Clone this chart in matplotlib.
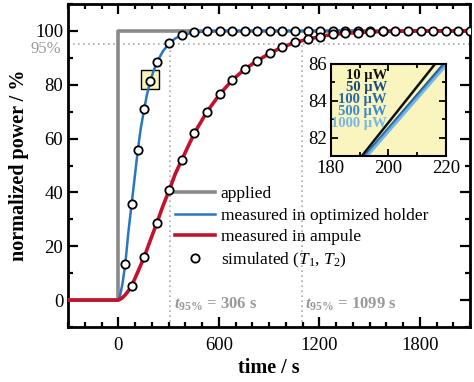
import matplotlib
matplotlib.use("Agg")
import matplotlib.pyplot as plt
from matplotlib.patches import Rectangle
from matplotlib.ticker import MultipleLocator

plt.rcParams['font.family'] = 'Liberation Serif'
plt.rcParams['mathtext.fontset'] = 'custom'
plt.rcParams['mathtext.rm'] = 'Liberation Serif'
plt.rcParams['mathtext.it'] = 'Liberation Serif:italic'
plt.rcParams['mathtext.bf'] = 'Liberation Serif:bold'
plt.rcParams['mathtext.bfit'] = 'Liberation Serif:italic:bold'

# applied step
applied_t = [-300, 0, 0, 2100]
applied_p = [0, 0, 100, 100]

# measured in optimized holder (blue line)
holder_t = [-300, 0, 10, 25, 42, 60, 80, 100, 117, 135, 155, 172, 192, 210, 230, 267, 305, 340, 380, 455, 530, 605, 2100]
holder_p = [0, 0, 1.5, 6, 13.3, 25, 35.8, 46.5, 55.9, 64, 71, 76.5, 81.4, 85, 88.3, 92.5, 95.4, 97.2, 98.4, 99.5, 99.8, 100, 100]

# measured in ampule (red line)
ampule_t = [-300, 0, 20, 40, 60, 80, 117, 155, 192, 230, 267, 305, 340, 380, 420, 455, 530, 605, 680, 755, 830, 905,
            980, 1055, 1130, 1205, 1280, 1355, 1430, 1505, 1580, 1655, 1800, 2100]
ampule_p = [0, 0, 0.6, 1.8, 3.4, 5.3, 10.5, 16, 22.3, 28.6, 35, 41, 46.8, 52.2, 57.5, 62.1, 70, 76.4, 81.7, 85.8, 88.9, 91.7,
            94, 95.7, 96.9, 97.9, 98.7, 99.1, 99.4, 99.6, 99.8, 99.9, 100, 100]

# simulated points
sim_holder_t = [42, 80, 117, 155, 192, 230, 305, 380, 455, 530, 605, 680, 755, 830, 905, 980, 1055, 1130, 1205,
                1280, 1355, 1430, 1505, 1580, 1655, 1730, 1805, 1880, 1955, 2030, 2100]
sim_holder_p = [13.3, 35.8, 55.9, 71, 81.4, 88.3, 95.4, 98.4, 99.5, 99.8, 100, 100, 100, 100, 100, 100, 100, 100, 100,
                100, 100, 100, 100, 100, 100, 100, 100, 100, 100, 100, 100]
sim_ampule_t = [80, 155, 230, 305, 380, 455, 530, 605, 680, 755, 830, 905, 980, 1055, 1130, 1205, 1280, 1355, 1430,
                1505, 1580]
sim_ampule_p = [5.3, 16, 28.6, 41, 52.2, 62.1, 70, 76.4, 81.7, 85.8, 88.9, 91.7, 94, 95.7, 96.9, 97.9, 98.7, 99.1, 99.4,
                99.6, 99.8]

t95_holder = 306
t95_ampule = 1099

# inset: power levels
inset_labels = ['10 µW', '50 µW', '100 µW', '500 µW', '1000 µW']
inset_colors = ['#111111', '#1d4a78', '#2868a8', '#3b8bd0', '#78b6e8']
inset_t0 = [190.8, 191.8, 192.0, 192.3, 192.7]
inset_t1 = [216.2, 219.2, 219.6, 220.0, 220.5]
inset_p = [81, 86]

grey = '#8a8a8a'
blue = '#2a76c0'
red = '#c2122c'

fig = plt.figure(figsize=(4.74, 3.82), dpi=100)
ax = fig.add_axes([68/474, 1-327/382, 402/474, 323/382])

ax.axhline(95, color='#aaaaaa', ls=(0, (1, 2)), lw=1.2, zorder=1)
ax.plot([t95_holder, t95_holder], [-10, 95], color='#aaaaaa', ls=(0, (1, 2)), lw=1.2, zorder=1)
ax.plot([t95_ampule, t95_ampule], [-10, 95], color='#aaaaaa', ls=(0, (1, 2)), lw=1.2, zorder=1)

ax.add_patch(Rectangle((137, 78.4), 108, 6.9, facecolor='#f7f2b6', edgecolor='black', lw=1.0, zorder=2))

ax.plot(applied_t, applied_p, color=grey, lw=2.6, label='applied', zorder=3)
ax.plot(holder_t, holder_p, color=blue, lw=1.8, label='measured in optimized holder', zorder=4)
ax.plot(ampule_t, ampule_p, color=red, lw=2.6, label='measured in ampule', zorder=5)
ax.plot(sim_holder_t + sim_ampule_t, sim_holder_p + sim_ampule_p, ls='none', marker='o', ms=6, mfc='white',
        mec='black', mew=1.3, label=r'simulated ($T_1$, $T_2$)', zorder=6, clip_on=True)

ax.set_xlim(-300, 2100)
ax.set_ylim(-10, 110)
ax.xaxis.set_major_locator(MultipleLocator(600))
ax.xaxis.set_minor_locator(MultipleLocator(100))
ax.yaxis.set_minor_locator(MultipleLocator(10))
ax.set_yticks([0, 20, 40, 60, 80, 100])
ax.tick_params(which='both', direction='in', top=True, right=True, labelsize=13.5, width=1.6)
ax.tick_params(axis='x', pad=7)
ax.tick_params(which='major', length=7)
ax.tick_params(which='minor', length=3.5)
for s in ax.spines.values():
    s.set_linewidth(2.0)

ax.set_xlabel('time / s', fontsize=14.5, fontweight='bold', labelpad=3)
ax.set_ylabel('normalized power / %', fontsize=14.5, fontweight='bold', labelpad=4)

ax.text(-0.018, 93.3, '95%', transform=ax.get_yaxis_transform(), ha='right', va='center', fontsize=12,
        color='#999999')

ax.text(335, -1.5, r'$\mathbfit{t}_{\mathbf{95\%}}$ = 306 s', fontsize=12, fontweight='bold', color='#999999',
        va='center')
ax.text(1112, -1.5, r'$\mathbfit{t}_{\mathbf{95\%}}$ = 1099 s', fontsize=12, fontweight='bold', color='#999999',
        va='center')

ax.legend(loc='upper left', bbox_to_anchor=(0.25, 0.457), frameon=False, fontsize=12.5, handlelength=2.3,
          handletextpad=0.3, labelspacing=0.3, borderaxespad=0)

# inset
ins = fig.add_axes([330.7/474, 1-156/382, 115.3/474, 92/382])
ins.set_facecolor('#faf4bf')
for lbl, c, a, b in zip(inset_labels, inset_colors, inset_t0, inset_t1):
    ins.plot([a, b], inset_p, color=c, lw=1.8)
ins.set_xlim(180, 220)
ins.set_ylim(81, 86)
ins.set_xticks([180, 200, 220])
ins.set_yticks([82, 84, 86])
ins.xaxis.set_minor_locator(MultipleLocator(10))
ins.yaxis.set_minor_locator(MultipleLocator(1))
ins.tick_params(which='both', direction='in', top=True, right=True, labelsize=13.5, width=1.3, pad=3)
ins.tick_params(which='major', length=5)
ins.tick_params(which='minor', length=3)
for s in ins.spines.values():
    s.set_linewidth(1.5)
ys = [85.35, 84.7, 84.05, 83.4, 82.75]
for lbl, c, y in zip(inset_labels, inset_colors, ys):
    ins.text(199.5, y, lbl, color=c, fontsize=10.5, fontweight='bold', ha='right', va='center')

fig.savefig('out.png', dpi=100)
